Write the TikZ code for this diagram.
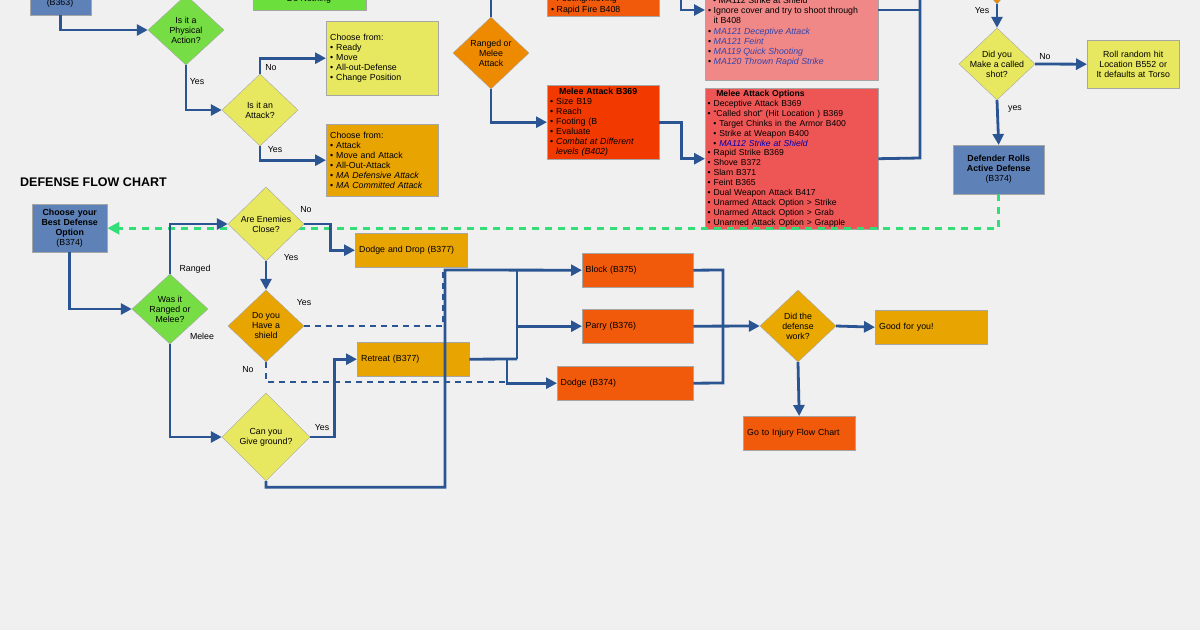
\documentclass[tikz,border=0pt]{standalone}
\usepackage{fontspec}
\setmainfont{Liberation Sans}
\usetikzlibrary{shapes.geometric,arrows.meta,calc}
\definecolor{bg}{HTML}{F0F0F0}
\definecolor{lnk}{HTML}{2B5592}
\definecolor{bluebx}{HTML}{5E82B8}
\definecolor{grn}{HTML}{77DD44}
\definecolor{yel}{HTML}{E8E860}
\definecolor{orA}{HTML}{E8A400}
\definecolor{orD}{HTML}{EE8A00}
\definecolor{orR}{HTML}{F05A0A}
\definecolor{redM}{HTML}{F23A00}
\definecolor{pinkM}{HTML}{EE5555}
\definecolor{pinkR}{HTML}{F08888}
\definecolor{gdash}{HTML}{33DD77}
\definecolor{itb}{HTML}{3344AA}
\tikzset{
 box/.style={draw=black!35,anchor=north west,inner sep=3pt,font=\fontsize{8.8}{10}\selectfont},
 dia/.style={diamond,draw=black!35,inner sep=-8pt,align=center,font=\fontsize{8.8}{10}\selectfont},
 conn/.style={draw=lnk,line width=2.8pt},
 arr/.style={conn,-{Triangle[width=11pt,length=11pt]}},
 dsh/.style={draw=lnk,line width=2.8pt,dash pattern=on 6pt off 5pt},
 lbl/.style={font=\fontsize{8.8}{10}\selectfont,inner sep=0pt},
}
\newcommand{\itm}{\textbullet~}
\newcommand{\ib}[1]{\textcolor{itb}{\itshape #1}}
\begin{document}
\begin{tikzpicture}[x=1pt,y=-1pt]
\fill[bg] (0,0) rectangle (1200,630);
\useasboundingbox (0,0) rectangle (1200,630);
\clip (0,0) rectangle (1200,630);
% top-left
\node[box,fill=bluebx,minimum width=61pt,minimum height=55pt] (b363) at (30,-40) {};
\node[lbl] at (60,3) {(B363)};
\node[box,fill=grn!90!green,minimum width=113pt,minimum height=40pt] (dono) at (253,-30) {};
\node[lbl] at (309,-1) {Do Nothing};
\node[dia,fill=grn,minimum width=76pt,minimum height=70pt] (phys) at (186,30) {Is it a\\Physical\\Action?};
\node[dia,fill=yel,minimum width=76pt,minimum height=72pt] (att) at (260,110) {Is it an\\Attack?};
\node[box,fill=yel,minimum width=112pt,minimum height=74pt,text width=104pt,align=left] (ch1) at (326,21) {Choose from:\\\itm Ready\\\itm Move\\\itm All-out-Defense\\\itm Change Position};
\node[box,fill=orA,minimum width=112pt,minimum height=72pt,text width=104pt,align=left] (ch2) at (326,124) {Choose from:\\\itm Attack\\\itm Move and Attack\\\itm All-Out-Attack\\\itm {\itshape MA Defensive Attack}\\\itm {\itshape MA Committed Attack}};
\draw[arr] (b363.south) |- (phys.west);
\draw[arr] (phys.south) |- (att.west);
\node[lbl] at (197,82) {Yes};
\draw[arr] (att.north) |- (ch1.west);
\node[lbl] at (271,68) {No};
\draw[arr] (att.south) |- (ch2.west);
\node[lbl] at (275,150) {Yes};
% attack column
\node[dia,fill=orD,minimum width=76pt,minimum height=72pt] (rm) at (491,53) {Ranged or\\Melee\\Attack};
\draw[conn] (rm.north) -- (491,-5);
\node[box,fill=orR,minimum width=112pt,minimum height=56pt] (rng) at (547,-40) {};
\node[lbl,anchor=north west,align=left,font=\fontsize{8.8}{10.5}\selectfont] at (551,-5) {\itm Footing/Moving\\\itm Rapid Fire B408};
\node[box,fill=redM,minimum width=112pt,minimum height=74pt,text width=106pt,align=left,inner sep=2pt] (mel) at (547,85) {\textbf{~~~Melee Attack B369}\\\itm Size B19\\\itm Reach\\\itm Footing (B\\\itm Evaluate\\\itm {\itshape Combat at Different}\\\phantom{\itm}{\itshape levels (B402)}};
\draw[arr] (rm.south) |- (mel.west);
\node[box,fill=pinkR,minimum width=173pt,minimum height=130pt] (ropt) at (705,-50) {};
\node[lbl,anchor=north west,align=left,font=\fontsize{8.8}{10.2}\selectfont] at (708,-3) {~~\itm MA112 Strike at Shield\\\itm Ignore cover and try to shoot through\\\phantom{\itm}it B408\\\itm \ib{MA121 Deceptive Attack}\\\itm \ib{MA121 Feint}\\\itm \ib{MA119 Quick Shooting}\\\itm \ib{MA120 Thrown Rapid Strike}};
\node[box,fill=pinkM,minimum width=173pt,minimum height=141pt,text width=168pt,align=left,inner sep=1pt,font=\fontsize{8.6}{9.9}\selectfont] (mopt) at (705,88) {\textbf{~~~Melee Attack Options}\\\itm Deceptive Attack B369\\\itm ``Called shot'' (Hit Location ) B369\\~~\itm Target Chinks in the Armor B400\\~~\itm Strike at Weapon B400\\~~\itm \textcolor{blue!70!black}{\itshape MA112 Strike at Shield}\\\itm Rapid Strike B369\\\itm Shove B372\\\itm Slam B371\\\itm Feint B365\\\itm Dual Weapon Attack B417\\\itm Unarmed Attack Option > Strike\\\itm Unarmed Attack Option > Grab\\\itm Unarmed Attack Option > Grapple};
\draw[arr] (mel.east) -- ++(22,0) |- (mopt.west);
\coordinate (tin) at (681,-5);
\draw[arr] (tin) |- (705,10);
\draw[conn] (878,10) -- (920,10);
\draw[conn] (mopt.east) -- (920,158) -- (920,-5);
% right column
\node[dia,fill=orD,minimum width=60pt,minimum height=68pt] (topd) at (997,-30) {};
\node[dia,fill=yel,minimum width=76pt,minimum height=72pt] (called) at (997,64) {Did you\\Make a called\\shot?};
\draw[arr] (topd.south) -- (called.north);
\node[lbl] at (982,11) {Yes};
\node[box,fill=yel,minimum width=92pt,minimum height=48pt,text width=88pt,align=center,inner sep=2pt] (roll) at (1087,40) {Roll random hit\\Location B552 or\\It defaults at Torso};
\draw[arr] (called.east) -- (roll.west);
\node[lbl] at (1045,57) {No};
\node[box,fill=bluebx,minimum width=91pt,minimum height=49pt,text width=85pt,align=center] (defr) at (953,145) {\textbf{Defender Rolls}\\\textbf{Active Defense}\\(B374)};
\draw[arr] (called.south) -- (defr.north);
\node[lbl] at (1015,109) {yes};
% defense
\node[anchor=west,font=\bfseries\fontsize{12.5}{14}\selectfont,inner sep=0pt] (title) at (20,182) {DEFENSE FLOW CHART};
\node[box,fill=bluebx,minimum width=75pt,minimum height=48pt,text width=71pt,align=center,inner sep=2pt] (choose) at (32,204) {\textbf{Choose your}\\\textbf{Best Defense}\\\textbf{Option}\\(B374)};
\draw[draw=gdash,line width=3pt,dash pattern=on 7pt off 6pt,-{Triangle[width=12pt,length=12pt]}] (defr.south) |- (choose.east);
\node[dia,fill=grn,minimum width=76pt,minimum height=70pt] (was) at (170,309) {Was it\\Ranged or\\Melee?};
\node[dia,fill=yel,minimum width=76pt,minimum height=74pt] (enem) at (266,224) {Are Enemies\\Close?};
\node[dia,fill=orA,minimum width=76pt,minimum height=72pt] (shield) at (266,326) {Do you\\Have a\\shield};
\node[dia,fill=yel,minimum width=88pt,minimum height=88pt] (give) at (266,437) {Can you\\Give ground?};
\node[box,fill=orA,minimum width=112pt,minimum height=34pt,text width=104pt,align=left] (ddrop) at (355,233) {Dodge and Drop (B377)};
\node[box,fill=orA,minimum width=112pt,minimum height=34pt,text width=104pt,align=left] (retr) at (357,342) {Retreat (B377)};
\node[box,fill=orR,minimum width=111pt,minimum height=34pt,text width=104pt,align=left] (block) at (582,253) {Block (B375)};
\node[box,fill=orR,minimum width=111pt,minimum height=34pt,text width=104pt,align=left] (parry) at (582,309) {Parry (B376)};
\node[box,fill=orR,minimum width=136pt,minimum height=34pt,text width=129pt,align=left] (dodge) at (557,366) {Dodge (B374)};
\node[dia,fill=orA!95!yellow,minimum width=76pt,minimum height=72pt] (didd) at (798,326) {Did the\\defense\\work?};
\node[box,fill=orA,minimum width=112pt,minimum height=34pt,text width=104pt,align=left] (good) at (875,310) {Good for you!};
\node[box,fill=orR,minimum width=112pt,minimum height=34pt,text width=104pt,align=left] (inj) at (743,416) {Go to Injury Flow Chart};
\draw[arr] (choose.south) |- (was.west);
\draw[arr] (was.north) |- (enem.west);
\node[lbl] at (195,269) {Ranged};
\node[lbl] at (202,336) {Melee};
\draw[arr] (was.south) |- (give.west);
\draw[arr] (enem.east) -- ++(26,0) |- (ddrop.west);
\node[lbl] at (306,210) {No};
\draw[arr] (enem.south) -- (shield.north);
\node[lbl] at (291,258) {Yes};
\draw[dsh] (shield.east) -- (443,326) -- (443,270);
\node[lbl] at (304,303) {Yes};
\draw[dsh] (shield.south) |- (505,382);
\node[lbl] at (248,370) {No};
\draw[arr] (give.east) -- ++(24,0) |- (retr.west);
\node[lbl] at (322,428) {Yes};
\draw[arr] (give.south) -- ++(0,6) -| (445,270) -- (block.west);
\draw[conn] (retr.east) -- (517,359);
\draw[conn] (517,270) -- (517,359);
\draw[arr] (517,326 |- parry.west) -- (parry.west);
\draw[arr] (507,359) |- (dodge.west);
\draw[conn] (block.east) -- (723,270) -- (723,383) -- (dodge.east);
\draw[arr] (parry.east) -- (didd.west);
\draw[arr] (didd.east) -- (good.west);
\draw[arr] (didd.south) -- (inj.north);
\end{tikzpicture}
\end{document}
